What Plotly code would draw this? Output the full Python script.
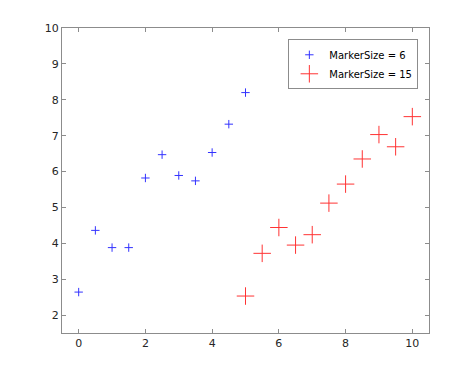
import plotly.graph_objects as go

x_small = [0, 0.5, 1, 1.5, 2, 2.5, 3, 3.5, 4, 4.5, 5]
y_small = [2.64, 4.36, 3.88, 3.88, 5.82, 6.47, 5.89, 5.74, 6.53, 7.32, 8.20]
x_large = [5, 5.5, 6, 6.5, 7, 7.5, 8, 8.5, 9, 9.5, 10]
y_large = [2.53, 3.72, 4.44, 3.95, 4.24, 5.12, 5.65, 6.35, 7.03, 6.69, 7.53]
names = ["MarkerSize = 6", "MarkerSize = 15"]

fig = go.Figure()
fig.add_trace(go.Scatter(
    x=x_small, y=y_small, mode="markers", name=names[0],
    marker=dict(symbol="cross-thin", size=6, color="#0000ff",
                line=dict(color="#3333ff", width=1)),
))
fig.add_trace(go.Scatter(
    x=x_large, y=y_large, mode="markers", name=names[1],
    marker=dict(symbol="cross-thin", size=12.5, color="#ff0000",
                line=dict(color="#ff3333", width=1)),
))

axis_common = dict(
    showline=True, linecolor="#8c8c8c", linewidth=1, mirror="ticks",
    ticks="inside", ticklen=4, tickcolor="#8c8c8c", showgrid=False,
    zeroline=False, tickfont=dict(family="DejaVu Sans", size=11, color="#262626"),
)

fig.update_layout(
    width=466, height=366,
    margin=dict(l=53.5, r=45, t=20, b=41),
    paper_bgcolor="white", plot_bgcolor="white",
    showlegend=True,
    legend=dict(
        x=0.971, y=0.963, xanchor="right", yanchor="top",
        bgcolor="white", bordercolor="#8c8c8c", borderwidth=1,
        font=dict(family="DejaVu Sans", size=10, color="#000000"),
        tracegroupgap=0, itemwidth=30,
    ),
    xaxis=dict(range=[-0.5, 10.5], tickmode="array", tickvals=[0, 2, 4, 6, 8, 10], **axis_common),
    yaxis=dict(range=[1.5, 10], tickmode="array", tickvals=[2, 3, 4, 5, 6, 7, 8, 9, 10], **axis_common),
)

fig.write_html("out.html")
